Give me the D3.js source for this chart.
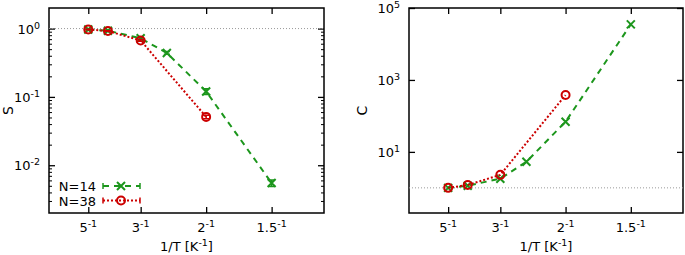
<!DOCTYPE html>
<html lang="en">
<head>
<meta charset="utf-8">
<title>S and C vs 1/T</title>
<script src="https://cdn.jsdelivr.net/npm/d3@7"></script>
<style>
  body { margin: 0; background: #fff; }
  text { font-family: "DejaVu Sans", sans-serif; font-size: 13px; fill: #000; }
</style>
</head>
<body></body>
<script>

// data -----------------------------------------------------------
var temps14 = [5, 4, 3, 2.5, 2, 1.5];
var temps38 = [5, 4, 3, 2];

var S14 = [0.97, 0.93, 0.72, 0.44, 0.12, 0.0055];
var S14err = [0.01, 0.01, 0.02, 0.02, 0.012, 0.0006];
var S38 = [0.97, 0.92, 0.67, 0.051];
var S38err = [0.01, 0.01, 0.02, 0.003];

var C14 = [1.0, 1.15, 1.8, 5.3, 69, 35000];
var C38 = [1.0, 1.2, 2.3, 380];

var xTickT = [5, 3, 2, 1.5];
var sTicks = [1, 0.1, 0.01];
var sTickExp = ["0", "-1", "-2"];
var cTicks = [10, 1000, 100000];
var cTickExp = ["1", "3", "5"];
var legendNames = ["N=14", "N=38"];

var green = "#1c961c", red = "#cc0000";

/*********************************************************************/
// canvas

var svg = d3.select("body").append("svg")
	.attr("width", 685)
	.attr("height", 255);

var top_ = 8, bottom = 213;

function panel(left, right, yDomain, yLabel, labelOff, yTicks, yExp, minor){
	var g = svg.append("g");
	var x = d3.scaleLinear().domain([0.1, 0.8]).range([left, right]);
	var y = d3.scaleLog().domain(yDomain).range([bottom, top_]);

	var xt = xTickT.map(function(t){ return 1/t; });

	// frame
	g.append("rect")
		.attr("x", left).attr("y", top_)
		.attr("width", right-left).attr("height", bottom-top_)
		.attr("fill", "none").attr("stroke", "#000").attr("stroke-width", 1.5);

	// ticks, inward on all four sides
	var axes = [
		[d3.axisTop(x).tickValues(xt), "translate(0," + bottom + ")"],
		[d3.axisBottom(x).tickValues(xt), "translate(0," + top_ + ")"],
		[d3.axisRight(y).tickValues(yTicks), "translate(" + left + ",0)"],
		[d3.axisLeft(y).tickValues(yTicks), "translate(" + right + ",0)"]
	];
	axes.forEach(function(a){
		var ax = g.append("g").attr("transform", a[1])
			.call(a[0].tickSize(6).tickFormat(""));
		ax.select(".domain").remove();
		ax.selectAll("line").attr("stroke-width", 1.3);
	});

	if(minor){
		var mt = [];
		var lo = Math.floor(Math.log10(yDomain[0])), hi = Math.ceil(Math.log10(yDomain[1]));
		for(var e = lo; e < hi; e++){
			for(var k = 2; k < 10; k++){
				var v = k*Math.pow(10, e);
				if(v > yDomain[0] && v < yDomain[1]) mt.push(v);
			}
		}
		[[d3.axisRight(y), left], [d3.axisLeft(y), right]].forEach(function(a){
			var ax = g.append("g").attr("transform", "translate(" + a[1] + ",0)")
				.call(a[0].tickValues(mt).tickSize(3).tickFormat(""));
			ax.select(".domain").remove();
			ax.selectAll("line").attr("stroke-width", 1);
		});
	}

	// tick labels with superscripts
	yTicks.forEach(function(v, i){
		var t = g.append("text")
			.attr("x", left - 9)
			.attr("y", y(v) + 5)
			.attr("text-anchor", "end");
		t.append("tspan").text("10");
		t.append("tspan").attr("dy", -5).style("font-size", "9.5px").text(yExp[i]);
	});
	xTickT.forEach(function(tv){
		var t = g.append("text")
			.attr("x", x(1/tv))
			.attr("y", bottom + 19)
			.attr("text-anchor", "middle");
		t.append("tspan").text(String(tv));
		t.append("tspan").attr("dy", -5).style("font-size", "9.5px").text("-1");
	});

	// axis titles
	var xl = g.append("text")
		.attr("x", (left+right)/2)
		.attr("y", bottom + 38)
		.attr("text-anchor", "middle");
	xl.append("tspan").text("1/T [K");
	xl.append("tspan").attr("dy", -5).style("font-size", "9.5px").text("-1");
	xl.append("tspan").attr("dy", 5).text("]");

	g.append("text")
		.attr("transform", "translate(" + (left - labelOff) + "," + ((top_+bottom)/2) + ") rotate(-90)")
		.attr("text-anchor", "middle")
		.attr("dy", "0.35em")
		.style("font-size", "14px")
		.text(yLabel);

	// reference line at 1
	g.append("line")
		.attr("x1", left).attr("x2", right)
		.attr("y1", y(1)).attr("y2", y(1))
		.attr("stroke", "#999").attr("stroke-width", 1)
		.attr("stroke-dasharray", "1,2");

	return {g: g, x: x, y: y};
}

function series(p, temps, vals, errs, color, dash, marker){
	var pts = temps.map(function(t, i){ return {x: 1/t, y: vals[i], e: errs ? errs[i] : 0}; });
	var line = d3.line().x(function(d){ return p.x(d.x); }).y(function(d){ return p.y(d.y); });
	p.g.append("path")
		.attr("d", line(pts))
		.attr("fill", "none")
		.attr("stroke", color)
		.attr("stroke-width", 2)
		.attr("stroke-dasharray", dash);

	if(errs){
		pts.forEach(function(d){
			var cx = p.x(d.x), y1 = p.y(d.y - d.e), y2 = p.y(d.y + d.e);
			p.g.append("path")
				.attr("d", "M" + cx + "," + y1 + "V" + y2 +
					"M" + (cx-3) + "," + y1 + "H" + (cx+3) +
					"M" + (cx-3) + "," + y2 + "H" + (cx+3))
				.attr("stroke", color).attr("stroke-width", 1.5).attr("fill", "none");
		});
	}
	pts.forEach(function(d){
		drawMarker(p.g, p.x(d.x), p.y(d.y), color, marker);
	});
}

function drawMarker(g, cx, cy, color, marker){
	if(marker == "x"){
		g.append("path")
			.attr("d", "M" + (cx-4) + "," + (cy-4) + "L" + (cx+4) + "," + (cy+4) +
				"M" + (cx-4) + "," + (cy+4) + "L" + (cx+4) + "," + (cy-4))
			.attr("stroke", color).attr("stroke-width", 2).attr("fill", "none");
	} else {
		g.append("circle")
			.attr("cx", cx).attr("cy", cy).attr("r", 4)
			.attr("stroke", color).attr("stroke-width", 2).attr("fill", "none");
	}
}

/*********************************************************************/
// left panel: S

var pS = panel(49, 324, [0.002, 2], "S", 41, sTicks, sTickExp, true);
series(pS, temps14, S14, S14err, green, "6,5", "x");
series(pS, temps38, S38, S38err, red, "2,2", "o");

// legend
[[green, "6,5", "x"], [red, "2,2", "o"]].forEach(function(st, i){
	var ly = 186 + i*14.5;
	pS.g.append("text")
		.attr("x", 96).attr("y", ly + 5)
		.attr("text-anchor", "end")
		.text(legendNames[i]);
	pS.g.append("line")
		.attr("x1", 103).attr("x2", 140)
		.attr("y1", ly).attr("y2", ly)
		.attr("stroke", st[0]).attr("stroke-width", 2)
		.attr("stroke-dasharray", st[1]);
	[103, 140].forEach(function(ex){
		pS.g.append("line")
			.attr("x1", ex).attr("x2", ex)
			.attr("y1", ly-3).attr("y2", ly+3)
			.attr("stroke", st[0]).attr("stroke-width", 1.5);
	});
	drawMarker(pS.g, 121, ly, st[0], st[2]);
});

/*********************************************************************/
// right panel: C

var pC = panel(409, 683, [0.2, 100000], "C", 47, cTicks, cTickExp, false);
series(pC, temps14, C14, null, green, "6,5", "x");
series(pC, temps38, C38, null, red, "2,2", "o");

</script>
</html>
